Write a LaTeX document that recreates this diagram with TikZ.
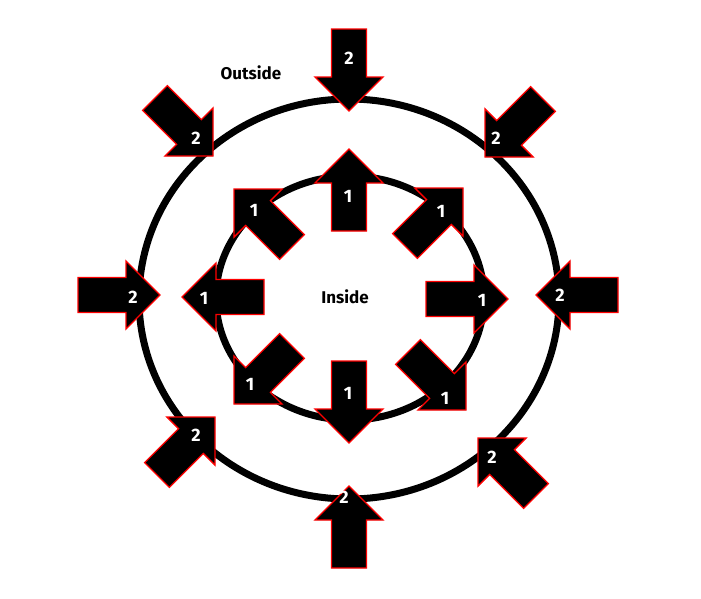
\documentclass[tikz,border=0pt]{standalone}
\usepackage{fontspec}
\setmainfont{Fira Sans}
\tikzset{
  arrowshape/.style={fill=black,draw=red,line width=1.3pt,line join=miter},
  ring/.style={draw=black,line width=7pt},
  num/.style={text=white,font=\bfseries\fontsize{18}{20}\selectfont,inner sep=0pt},
  word/.style={text=black,font=\bfseries\fontsize{17}{20}\selectfont}
}
\newcommand\myarrow[3]{%
  \begin{scope}[shift={(#1,-#2)},rotate=#3]
    \path[arrowshape] (0,0) -- (-34,34) -- (-34,17.5) -- (-82,17.5) -- (-82,-17.5) -- (-34,-17.5) -- (-34,-34) -- cycle;
  \end{scope}}
\begin{document}
\begin{tikzpicture}[x=1pt,y=1pt]
\useasboundingbox (0,0) rectangle (701,-598);
\fill[white] (0,0) rectangle (701,-598);
\draw[ring] (349,-299) ellipse [x radius=210, y radius=200];
\draw[ring] (350,-298) ellipse [x radius=134, y radius=122];
% outer arrows
\myarrow{349}{111}{-90}
\myarrow{213}{156}{-45}
\myarrow{485}{157}{-135}
\myarrow{160}{295}{0}
\myarrow{536}{295}{180}
\myarrow{215}{417}{45}
\myarrow{349}{486}{90}
\myarrow{478}{438}{135}
% inner arrows
\myarrow{349}{149}{90}
\myarrow{234}{189}{135}
\myarrow{463}{188}{45}
\myarrow{182}{297}{180}
\myarrow{508}{299}{0}
\myarrow{234}{404}{-135}
\myarrow{349}{443}{-90}
\myarrow{466}{410}{-45}
% labels
\node[num] (o1) at (349,-58) {2};
\node[num] (o2) at (196,-138) {2};
\node[num] (o3) at (496,-138) {2};
\node[num] (o4) at (133,-297) {2};
\node[num] (o5) at (560,-295) {2};
\node[num] (o6) at (196,-435) {2};
\node[num] (o7) at (344,-497) {2};
\node[num] (o8) at (492,-457) {2};
\node[num] (i1) at (348,-196) {1};
\node[num] (i2) at (254,-210) {1};
\node[num] (i3) at (441,-211) {1};
\node[num] (i4) at (204,-298) {1};
\node[num] (i5) at (482,-300) {1};
\node[num] (i6) at (250,-384) {1};
\node[num] (i7) at (348,-393) {1};
\node[num] (i8) at (445,-398) {1};
\node[word] (out) at (251,-73) {Outside};
\node[word] (in) at (345,-297) {Inside};
\end{tikzpicture}
\end{document}
